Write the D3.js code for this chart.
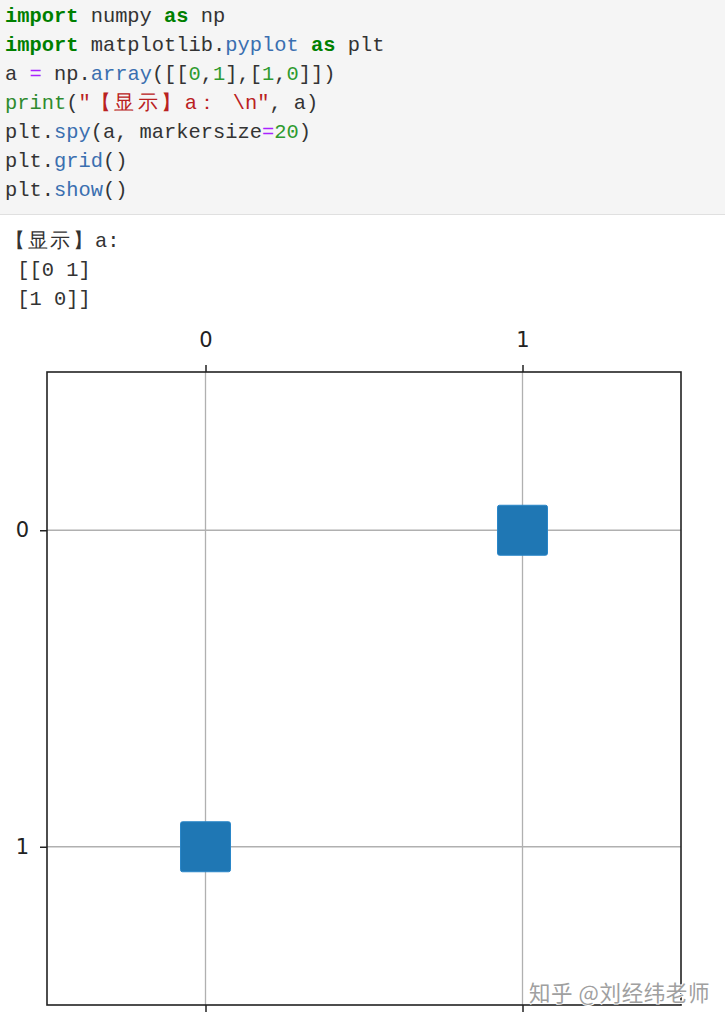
<!DOCTYPE html>
<html><head><meta charset="utf-8">
<script src="https://cdn.jsdelivr.net/npm/d3@7"></script>
<style>
html,body{margin:0;padding:0;background:#fff;}
svg{display:block;}
</style></head>
<body>
<script>
// ---- data ----
const matrix = [[0,1],[1,0]];
const xTickLabels = ["0","1"];
const yTickLabels = ["0","1"];
const codeLines = [
  [["import","kw"],[" numpy ","d"],["as","kw"],[" np","d"]],
  [["import","kw"],[" matplotlib.","d"],["pyplot","fn"],[" ","d"],["as","kw"],[" plt","d"]],
  [["a ","d"],["=","op"],[" np.","d"],["array","fn"],["([[","d"],["0","num"],[",","d"],["1","num"],["],[","d"],["1","num"],[",","d"],["0","num"],["]])","d"]],
  [["print","bi"],["(","d"],["\"","str"],["【显示】","strc"],["a","str"],["：","strc"],[" \\n\"","str"],[", a)","d"]],
  [["plt.","d"],["spy","fn"],["(a, markersize","d"],["=","op"],["20","num"],[")","d"]],
  [["plt.","d"],["grid","fn"],["()","d"]],
  [["plt.","d"],["show","fn"],["()","d"]]
];
const outputLines = [[["【显示】","c"],["a",""],[":",""]], [[" [[0 1]",""]], [[" [1 0]]",""]]];

const W = 725, H = 1023;
const svg = d3.select("body").append("svg").attr("width", W).attr("height", H);

// code cell
svg.append("rect").attr("x",0).attr("y",0).attr("width",W).attr("height",214).attr("fill","#f5f5f5");
svg.append("line").attr("x1",0).attr("x2",W).attr("y1",214.5).attr("y2",214.5).attr("stroke","#e0e0e0");

const colors = {kw:"#008000", d:"#333333", fn:"#3a6fb0", op:"#aa22ff", num:"#2e9a2e", bi:"#2e8b2e", str:"#ba2121", strc:"#ba2121"};
const mono = "'Liberation Mono','DejaVu Sans Mono',monospace";
codeLines.forEach((line,i)=>{
  const t = svg.append("text").attr("x",5).attr("y",22+i*29)
    .attr("font-family",mono).attr("font-size",20.4).style("white-space","pre");
  line.forEach(([s,k])=>{
    const sp = t.append("tspan").text(s).attr("fill",colors[k]).attr("font-weight",k==="kw"?"bold":"normal");
    if(k==="strc") sp.attr("letter-spacing",3.5);
  });
});

outputLines.forEach((line,i)=>{
  const t = svg.append("text").attr("x",5).attr("y",247+i*29)
    .attr("font-family",mono).attr("font-size",20.4).attr("fill","#333").style("white-space","pre");
  line.forEach(([s,k])=>{
    const sp = t.append("tspan").text(s);
    if(k==="c") sp.attr("letter-spacing",2.5);
  });
});

// plot
const x = d3.scaleLinear().domain([-0.5,1.5]).range([47,681]);
const y = d3.scaleLinear().domain([-0.5,1.5]).range([372,1005]);
const g = svg.append("g");

// grid
g.selectAll(".gx").data([0,1]).enter().append("line")
  .attr("x1",d=>x(d)).attr("x2",d=>x(d)).attr("y1",372).attr("y2",1005)
  .attr("stroke","#b0b0b0").attr("stroke-width",1.3);
g.selectAll(".gy").data([0,1]).enter().append("line")
  .attr("y1",d=>y(d)).attr("y2",d=>y(d)).attr("x1",47).attr("x2",681)
  .attr("stroke","#b0b0b0").attr("stroke-width",1.3);

// markers
const pts = [];
matrix.forEach((row,r)=>row.forEach((v,c)=>{ if(v!==0) pts.push({r,c}); }));
const ms = 50;
g.selectAll(".m").data(pts).enter().append("rect")
  .attr("x",d=>x(d.c)-ms/2).attr("y",d=>y(d.r)-ms/2)
  .attr("width",ms).attr("height",ms).attr("rx",2)
  .attr("fill","#1f77b4").attr("stroke","#2a86c8").attr("stroke-width",1);

// axes
const fontAx = "'DejaVu Sans',sans-serif";
function styleAxis(sel){
  sel.select(".domain").remove();
  sel.selectAll(".tick line").attr("stroke","#222").attr("stroke-width",1.5);
  sel.selectAll(".tick text").attr("font-family",fontAx).attr("font-size",21).attr("fill","#222");
}
svg.append("g").attr("transform","translate(0,372)")
  .call(d3.axisTop(x).tickValues([0,1]).tickFormat((d,i)=>xTickLabels[i]).tickSize(7).tickPadding(18)).call(styleAxis);
svg.append("g").attr("transform","translate(0,1005)")
  .call(d3.axisBottom(x).tickValues([0,1]).tickFormat("").tickSize(7)).call(styleAxis);
svg.append("g").attr("transform","translate(47,0)")
  .call(d3.axisLeft(y).tickValues([0,1]).tickFormat((d,i)=>yTickLabels[i]).tickSize(7).tickPadding(11)).call(styleAxis);

// watermark
svg.append("rect").attr("x",47).attr("y",372).attr("width",634).attr("height",633)
  .attr("fill","none").attr("stroke","#222").attr("stroke-width",1.6);

svg.append("text").attr("x",529).attr("y",1001)
  .attr("font-family","'Noto Sans CJK SC',sans-serif").attr("font-size",21.5)
  .attr("fill","#a0a0a0").attr("stroke","#fff").attr("stroke-width",2).attr("paint-order","stroke")
  .attr("letter-spacing",0.6)
  .style("white-space","pre").text("知乎 @刘经纬老师");
</script>
</body></html>
